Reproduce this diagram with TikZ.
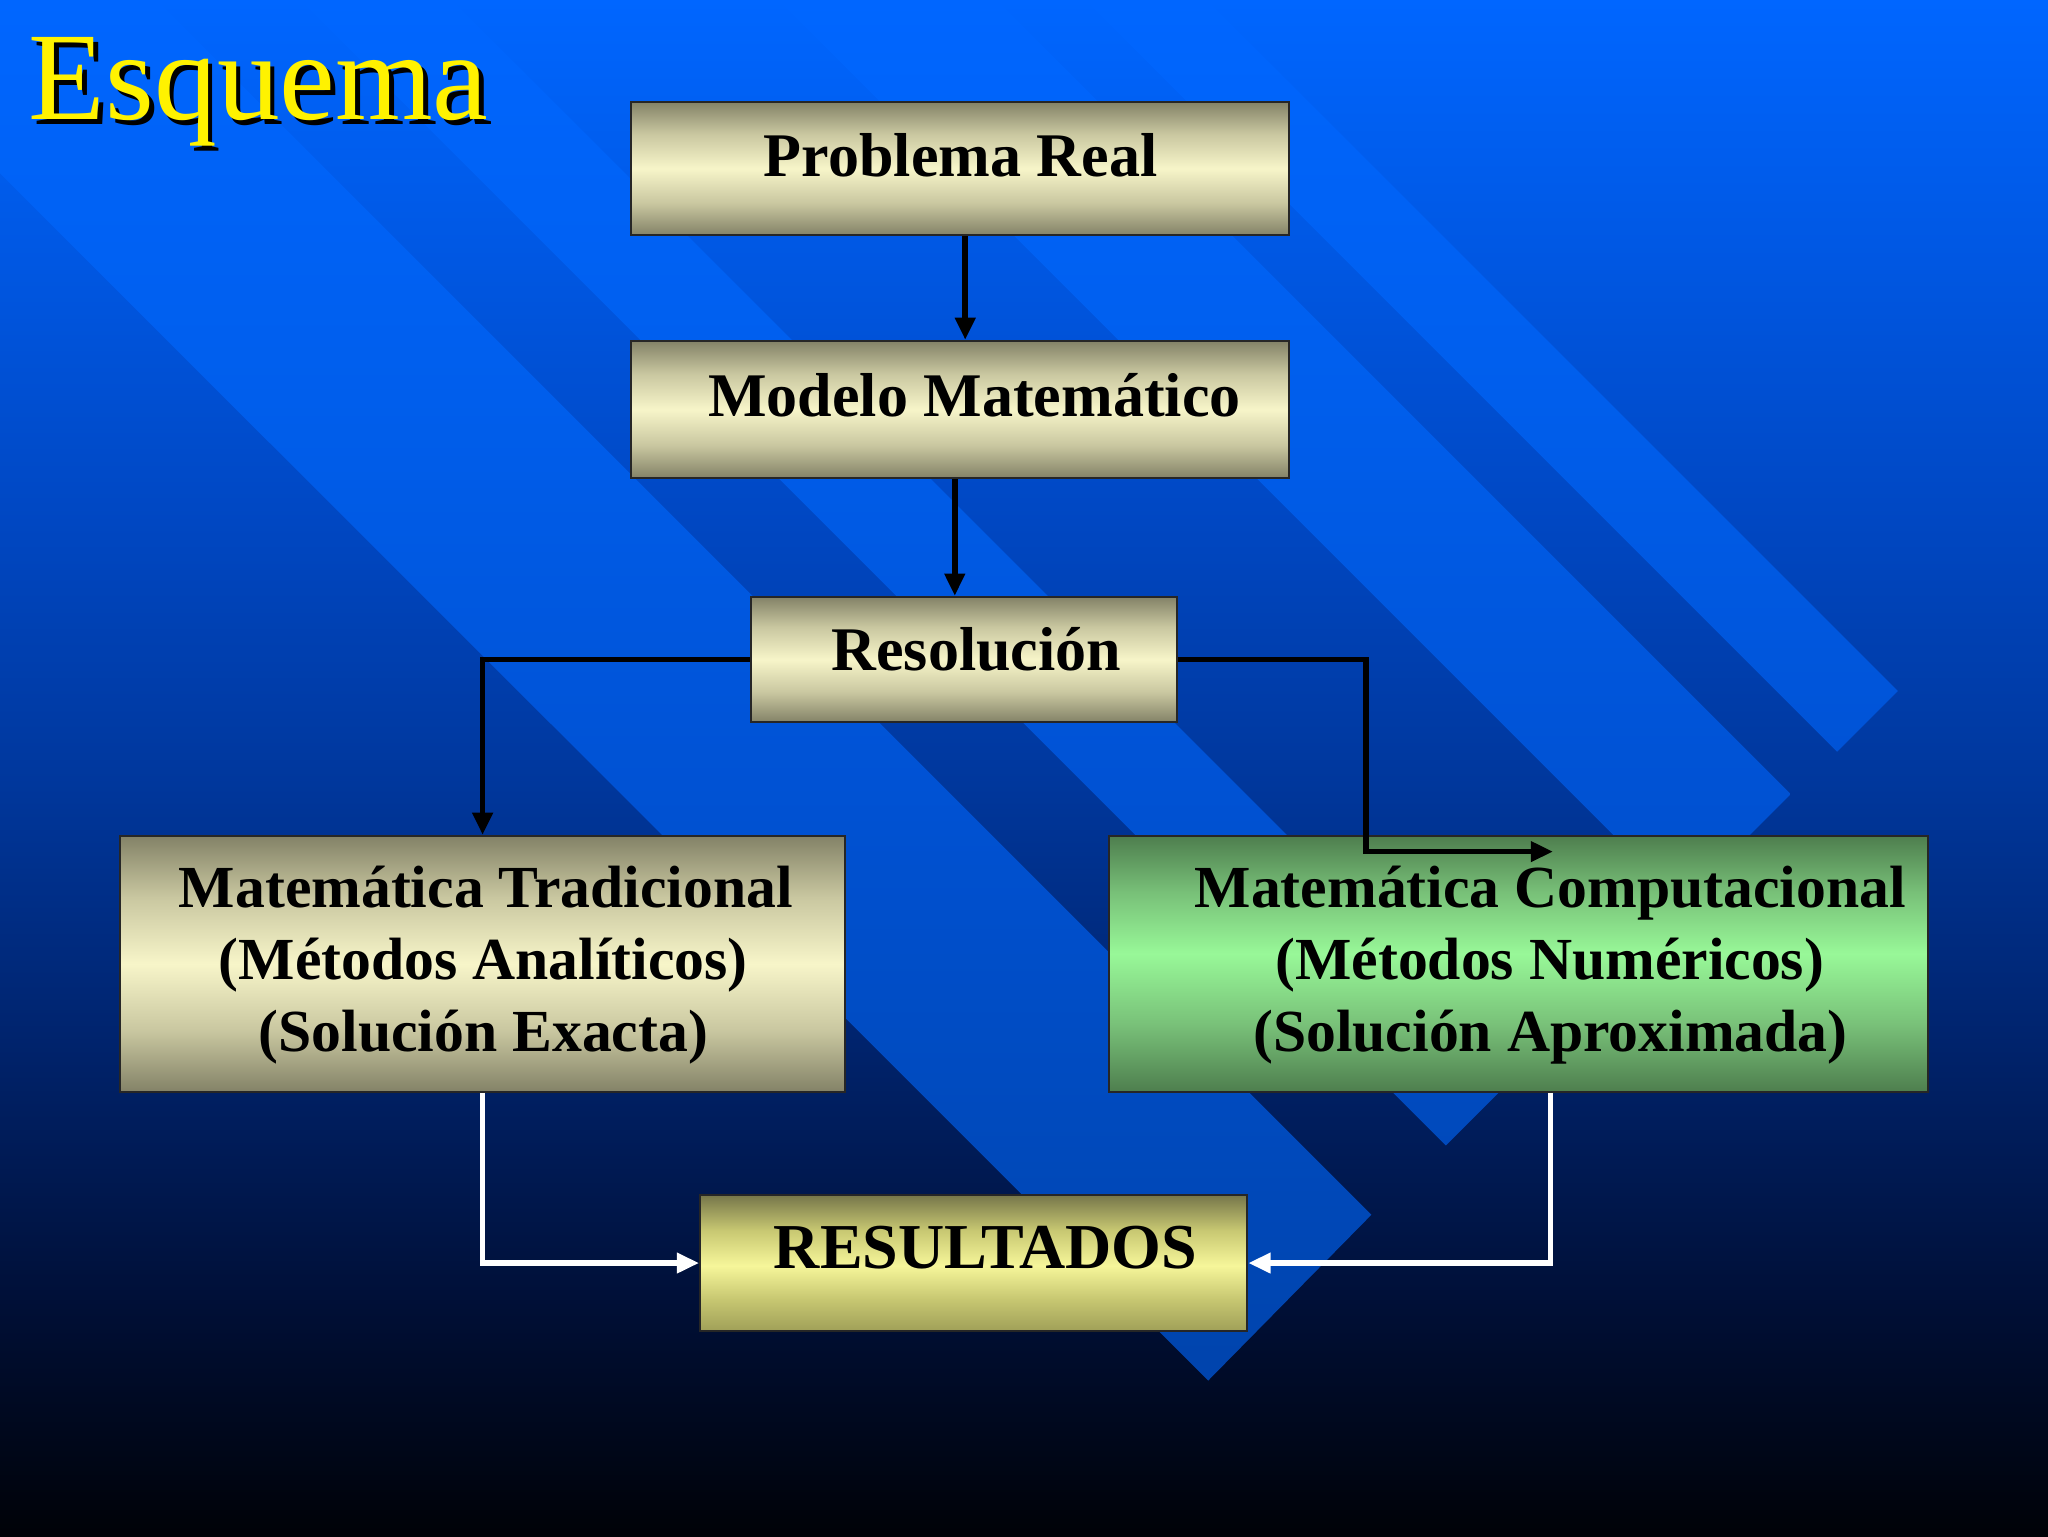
\documentclass[tikz,border=0pt]{standalone}
\usepackage{fontspec}
\setmainfont{Liberation Serif}
\usetikzlibrary{arrows.meta,calc}

% background colours (top to bottom)
\definecolor{bgA}{HTML}{0066FF}
\definecolor{bgB}{HTML}{0057E2}
\definecolor{bgC}{HTML}{0047C2}
\definecolor{bgD}{HTML}{00379C}
\definecolor{bgE}{HTML}{00236C}
\definecolor{bgF}{HTML}{000F36}
\definecolor{bgG}{HTML}{000207}
% stripe colours
\definecolor{stA}{HTML}{0066FF}
\definecolor{stB}{HTML}{005EEC}
\definecolor{stC}{HTML}{0052D4}
\definecolor{stD}{HTML}{0048B8}
\definecolor{stE}{HTML}{0040A2}
% box colours
\definecolor{kdark}{HTML}{838267}
\definecolor{kmid}{HTML}{C9C7A0}
\definecolor{klight}{HTML}{F7F5C9}
\definecolor{gdark}{HTML}{4E7E4E}
\definecolor{gmid}{HTML}{78C078}
\definecolor{glight}{HTML}{98F898}
\definecolor{ydark}{HTML}{76764A}
\definecolor{ymid}{HTML}{C8C872}
\definecolor{ylight}{HTML}{F6F69A}
\definecolor{ybot}{HTML}{A0A058}

\pgfdeclareverticalshading{bgsh}{100bp}{color(0bp)=(bgG); color(25bp)=(bgG); color(32.48bp)=(bgF); color(40.99bp)=(bgE); color(49.49bp)=(bgD); color(57.99bp)=(bgC); color(66.5bp)=(bgB); color(75bp)=(bgA); color(100bp)=(bgA)}
\pgfdeclareverticalshading{stsh}{100bp}{color(0bp)=(stE); color(25bp)=(stE); color(36bp)=(stD); color(49.5bp)=(stC); color(62bp)=(stB); color(75bp)=(stA); color(100bp)=(stA)}
\pgfdeclareverticalshading{khakish}{100bp}{color(0bp)=(kdark); color(25bp)=(kdark); color(37bp)=(kmid); color(50bp)=(klight); color(63bp)=(kmid); color(75bp)=(kdark); color(100bp)=(kdark)}
\pgfdeclareverticalshading{greensh}{100bp}{color(0bp)=(gdark); color(25bp)=(gdark); color(38bp)=(gmid); color(52bp)=(glight); color(64bp)=(gmid); color(75bp)=(gdark); color(100bp)=(gdark)}
\pgfdeclareverticalshading{yellowsh}{100bp}{color(0bp)=(ybot); color(25bp)=(ybot); color(37bp)=(ymid); color(49bp)=(ylight); color(62bp)=(ymid); color(75bp)=(ydark); color(100bp)=(ydark)}

\tikzset{
  boxbase/.style={draw=black!85, line width=1.6pt, inner sep=0pt, rectangle},
  khakibox/.style={boxbase, shading=khakish},
  greenbox/.style={boxbase, shading=greensh},
  yellowbox/.style={boxbase, shading=yellowsh},
  txt/.style={inner sep=0pt, anchor=base, text=black, font=\fontsize{47.5}{55}\selectfont\bfseries},
  smalltxt/.style={txt, font=\fontsize{45.7}{55}\selectfont\bfseries},
  bigtxt/.style={txt, font=\fontsize{49}{55}\selectfont\bfseries},
  ttlfont/.style={inner sep=0pt, anchor=base west, font=\fontsize{96}{110}\selectfont},
  conn/.style={line width=4.2pt, draw=black, -{Triangle[length=17pt,width=15pt]}},
  wconn/.style={line width=4pt, draw=white, -{Triangle[length=17pt,width=15pt]}}
}

\begin{document}
\begin{tikzpicture}[x=1pt,y=-1pt]
\useasboundingbox (0,0) rectangle (1568,1176);
% background
\shade[shading=bgsh] (0,0) rectangle (1568,1176);
% diagonal stripes
\begin{scope}
  \clip (-200,-320) -- (1050,930) -- (925,1057) -- (-200,-67) -- cycle;
  \shade[shading=stsh] (0,0) rectangle (1568,1176);
\end{scope}
\begin{scope}
  \clip (246,-100) -- (1165,819) -- (1107,877) -- (130,-100) -- cycle;
  \shade[shading=stsh] (0,0) rectangle (1568,1176);
\end{scope}
\begin{scope}
  \clip (663,-100) -- (1371,608) -- (1287.5,691.5) -- (496,-100) -- cycle;
  \shade[shading=stsh] (0,0) rectangle (1568,1176);
\end{scope}
\begin{scope}
  \clip (824,-100) -- (1453,529) -- (1406.5,575.5) -- (731,-100) -- cycle;
  \shade[shading=stsh] (0,0) rectangle (1568,1176);
\end{scope}

% title with shadow
\node[ttlfont, text=black] (ttlS) at (25.5,95) {Esquema};
\node[ttlfont, text=yellow] (ttl) at (22,91.5) {Esquema};

% boxes
\node[khakibox, minimum width=504pt, minimum height=102pt] (pr) at (735,129) {};
\node[khakibox, minimum width=504pt, minimum height=105pt] (mm) at (735,313.5) {};
\node[khakibox, minimum width=326pt, minimum height=96pt] (res) at (738,505) {};
\node[khakibox, minimum width=555pt, minimum height=196pt] (mt) at (369.5,738) {};
\node[greenbox, minimum width=627pt, minimum height=196pt] (mc) at (1162.5,738) {};
\node[yellowbox, minimum width=419pt, minimum height=104pt] (rs) at (745.5,967) {};

% texts
\node[txt] (prT) at (735.5,135.5) {Problema Real};
\node[txt] (mmT) at (746,319) {Modelo Matemático};
\node[txt] (resT) at (747.5,513.5) {Resolución};
\node[smalltxt] (mtT1) at (372,694.6) {Matemática Tradicional};
\node[smalltxt] (mtT2) at (370,749.7) {(Métodos Analíticos)};
\node[smalltxt] (mtT3) at (370,804.8) {(Solución Exacta)};
\node[smalltxt] (mcT1) at (1187,694.6) {Matemática Computacional};
\node[smalltxt] (mcT2) at (1186.5,749.7) {(Métodos Numéricos)};
\node[smalltxt] (mcT3) at (1187,804.8) {(Solución Aproximada)};
\node[bigtxt] (rsT) at (754.5,971) {RESULTADOS};

% connectors
\coordinate (bend) at (1046,652);
\coordinate (tipC) at (1189,652);
\draw[conn] ([xshift=4pt]pr.south) -- ([xshift=4pt]mm.north);
\draw[conn] ([xshift=-4pt]mm.south) -- ([xshift=-7pt]res.north);
\draw[conn] (res.west) -| (mt.north);
\draw[conn] (res.east) -| (bend) -- (tipC);
\draw[wconn] (mt.south) |- (rs.west);
\draw[wconn] ([xshift=24.5pt]mc.south) |- (rs.east);
\end{tikzpicture}
\end{document}
